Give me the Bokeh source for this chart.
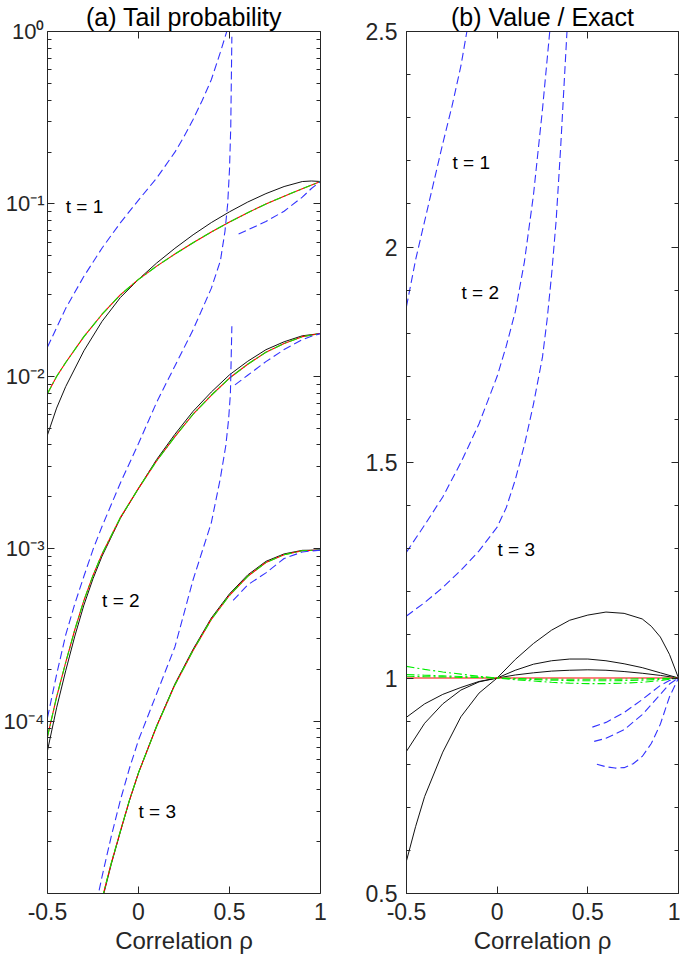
from bokeh.plotting import figure
from bokeh.models import (LinearAxis, LogAxis, FixedTicker, CustomJSTickFormatter,
                          Range1d, SingleIntervalTicker)
from bokeh.layouts import row
from bokeh.embed import file_html
from bokeh.resources import INLINE
from bokeh.core.properties import value

# ---------------- data: panel (a) tail probability ----------------
rho_t1 = [-0.5, -0.45, -0.4, -0.3, -0.2, -0.1, 0.0, 0.1, 0.2, 0.3, 0.4, 0.5, 0.6, 0.7, 0.8, 0.9, 1.0]
exact_t1 = [0.00794, 0.00998, 0.01202, 0.01698, 0.02291, 0.02965, 0.03648, 0.04355, 0.05117,
            0.05957, 0.06871, 0.07852, 0.08892, 0.09977, 0.1109, 0.1225, 0.1349]

rho_black_t1 = [-0.5, -0.45, -0.4, -0.3, -0.2, -0.1, 0.0, 0.1, 0.2, 0.3, 0.4, 0.5, 0.6, 0.7, 0.8,
                0.9, 0.95, 1.0]
black_t1 = [0.004573, 0.00654, 0.008715, 0.01406, 0.02085, 0.02861, 0.03648, 0.04542, 0.05526,
            0.06618, 0.07792, 0.08998, 0.1025, 0.1147, 0.1261, 0.1348, 0.1358, 0.1349]

rho_t2 = [-0.5, -0.45, -0.4, -0.35, -0.3, -0.25, -0.2, -0.1, 0.0, 0.1, 0.2, 0.3, 0.4, 0.5, 0.6,
          0.7, 0.8, 0.9, 1.0]
exact_t2 = [8.13e-5, 1.38e-4, 2.188e-4, 3.388e-4, 5.01e-4, 6.998e-4, 9.33e-4, 1.514e-3, 2.239e-3,
            3.236e-3, 4.467e-3, 6.026e-3, 7.762e-3, 9.772e-3, 1.175e-2, 1.380e-2, 1.549e-2,
            1.698e-2, 1.770e-2]
black_t2 = [6.75e-5, 1.194e-4, 1.958e-4, 3.110e-4, 4.71e-4, 6.697e-4, 9.07e-4, 1.500e-3, 2.239e-3,
            3.294e-3, 4.610e-3, 6.267e-3, 8.104e-3, 1.0202e-2, 1.222e-2, 1.426e-2, 1.586e-2,
            1.718e-2, 1.770e-2]

rho_t3 = [-0.2, -0.15, -0.1, -0.05, 0.0, 0.1, 0.2, 0.3, 0.4, 0.5, 0.6, 0.7, 0.8, 0.9, 1.0]
exact_t3 = [9.33e-6, 1.496e-5, 2.291e-5, 3.467e-5, 5.012e-5, 9.333e-5, 1.622e-4, 2.570e-4,
            3.890e-4, 5.370e-4, 6.918e-4, 8.318e-4, 9.226e-4, 9.727e-4, 9.817e-4]
black_t3 = [9.12e-6, 1.474e-5, 2.273e-5, 3.453e-5, 5.012e-5, 9.398e-5, 1.641e-4, 2.611e-4,
            3.960e-4, 5.472e-4, 7.043e-4, 8.443e-4, 9.327e-4, 9.785e-4, 9.817e-4]

# blue dashed approximation, two branches per t
rho_blue_lo_t1 = [-0.5, -0.4, -0.3, -0.2, -0.1, 0.0, 0.1, 0.2, 0.25, 0.3, 0.35, 0.4, 0.45, 0.485]
blue_lo_t1 = [0.01479, 0.02477, 0.03802, 0.05546, 0.07762, 0.1052, 0.1413, 0.1995, 0.2455,
              0.3090, 0.3981, 0.5248, 0.7586, 1.0]
rho_blue_hi_t1 = [0.55, 0.6, 0.7, 0.8, 0.9, 0.95, 1.0]
blue_hi_t1 = [0.06685, 0.0706, 0.07902, 0.09072, 0.1094, 0.1228, 0.1349]

rho_blue_lo_t2 = [-0.5, -0.45, -0.4, -0.35, -0.3, -0.25, -0.2, -0.1, 0.0, 0.1, 0.2, 0.3, 0.4,
                  0.45, 0.475, 0.49, 0.5, 0.507, 0.513]
blue_lo_t2 = [1.047e-4, 1.862e-4, 3.162e-4, 4.786e-4, 6.918e-4, 9.886e-4, 1.349e-3, 2.399e-3,
              4.074e-3, 7.079e-3, 1.148e-2, 1.862e-2, 3.236e-2, 4.677e-2, 6.918e-2, 0.1, 0.1585,
              0.2818, 0.9333]
rho_blue_hi_t2 = [0.53, 0.6, 0.7, 0.8, 0.9, 0.95, 1.0]
blue_hi_t2 = [8.913e-3, 1.014e-2, 1.216e-2, 1.429e-2, 1.633e-2, 1.706e-2, 1.770e-2]

rho_blue_lo_t3 = [-0.23, -0.2, -0.15, -0.1, -0.05, 0.0, 0.1, 0.2, 0.3, 0.4, 0.45, 0.48, 0.495,
                  0.505, 0.513]
blue_lo_t3 = [8.913e-6, 1.259e-5, 2.138e-5, 3.467e-5, 5.309e-5, 7.762e-5, 1.445e-4, 2.692e-4,
              6.607e-4, 1.413e-3, 2.570e-3, 3.981e-3, 5.623e-3, 7.943e-3, 1.950e-2]
rho_blue_hi_t3 = [0.52, 0.6, 0.7, 0.8, 0.9, 1.0]
blue_hi_t3 = [5.012e-4, 6.166e-4, 7.244e-4, 8.770e-4, 9.572e-4, 9.817e-4]

labels_a_text = ["t = 1", "t = 2", "t = 3"]
labels_a_rho = [-0.40, -0.20, 0.0]
labels_a_val = [0.0968, 4.98e-4, 2.99e-5]

# ---------------- data: panel (b) value / exact ----------------
rho_grid = [-0.5, -0.4, -0.3, -0.2, -0.1, 0.0, 0.1, 0.2, 0.3, 0.4, 0.5, 0.6, 0.7, 0.8, 0.9, 1.0]

rho_red_b = [-0.5, 1.0]
red_b = [1.0, 1.0]

rho_black_b1 = [-0.5, -0.45, -0.4, -0.3, -0.2, -0.1, 0.0, 0.1, 0.2, 0.3, 0.4, 0.5, 0.6, 0.7,
                0.8, 0.85, 0.9, 0.95, 1.0]
ratio_black_t1 = [0.576, 0.655, 0.725, 0.828, 0.91, 0.965, 1.0, 1.043, 1.08, 1.111, 1.134, 1.146,
                  1.153, 1.15, 1.137, 1.12, 1.095, 1.055, 1.0]
ratio_black_t2 = [0.83, 0.895, 0.94, 0.972, 0.991, 1.0, 1.018, 1.032, 1.04, 1.044, 1.044, 1.04,
                  1.033, 1.024, 1.012, 1.0]
ratio_black_t3 = [0.909, 0.94, 0.962, 0.978, 0.992, 1.0, 1.007, 1.012, 1.016, 1.018, 1.019, 1.018,
                  1.015, 1.011, 1.006, 1.0]

ratio_green_1 = [1.027, 1.020, 1.014, 1.009, 1.004, 1.0, 0.996, 0.993, 0.990, 0.988, 0.987, 0.987,
                 0.988, 0.990, 0.994, 1.0]
ratio_green_2 = [1.008, 1.0065, 1.005, 1.0035, 1.002, 1.0, 0.998, 0.9965, 0.995, 0.994, 0.9935,
                 0.9935, 0.994, 0.995, 0.997, 1.0]
ratio_green_3 = [1.004, 1.003, 1.0025, 1.0015, 1.001, 1.0, 0.999, 0.998, 0.9975, 0.997, 0.997,
                 0.997, 0.9975, 0.998, 0.999, 1.0]

rho_rb_lo_t1 = [-0.5, -0.45, -0.4, -0.35, -0.3, -0.25, -0.2, -0.165]
ratio_blue_lo_t1 = [1.862, 1.97, 2.06, 2.15, 2.24, 2.325, 2.42, 2.505]
rho_rb_lo_t2 = [-0.5, -0.4, -0.3, -0.2, -0.1, 0.0, 0.05, 0.1, 0.15, 0.2, 0.25, 0.29]
ratio_blue_lo_t2 = [1.292, 1.355, 1.42, 1.50, 1.59, 1.70, 1.77, 1.85, 1.965, 2.12, 2.32, 2.50]
rho_rb_lo_t3 = [-0.5, -0.4, -0.3, -0.2, -0.1, 0.0, 0.05, 0.1, 0.15, 0.2, 0.25, 0.275, 0.3, 0.325,
                0.35, 0.385]
ratio_blue_lo_t3 = [1.144, 1.175, 1.21, 1.25, 1.295, 1.35, 1.395, 1.46, 1.54, 1.635, 1.745, 1.83,
                    1.935, 2.06, 2.23, 2.50]

rho_rb_hi_t1 = [0.55, 0.6, 0.65, 0.7, 0.75, 0.8, 0.85, 0.9, 0.95, 1.0]
ratio_blue_hi_t1 = [0.800, 0.794, 0.791, 0.792, 0.801, 0.818, 0.848, 0.893, 0.956, 1.0]
rho_rb_hi_t2 = [0.535, 0.6, 0.7, 0.8, 0.9, 0.95, 1.0]
ratio_blue_hi_t2 = [0.853, 0.860, 0.880, 0.915, 0.962, 0.986, 1.0]
rho_rb_hi_t3 = [0.525, 0.6, 0.7, 0.8, 0.9, 0.95, 1.0]
ratio_blue_hi_t3 = [0.886, 0.897, 0.92, 0.95, 0.983, 0.994, 1.0]

labels_b_text = ["t = 1", "t = 2", "t = 3"]
labels_b_rho = [-0.246, -0.197, 0.002]
labels_b_val = [2.195, 1.895, 1.297]

x_ticks = [-0.5, 0.0, 0.5, 1.0]
log_major = [1e-4, 1e-3, 1e-2, 1e-1, 1.0]

# ---------------- styling ----------------
FONT = "Liberation Sans"
AX = "#262626"
BLUE = "#3333ff"
GREEN = "#00ee00"
RED = "#ff0000"
BLACK = "#111111"
DASH = "8 4"
DASHDOT = "8 3 2 3"

log_minor = [m * d for d in [1e-5, 1e-4, 1e-3, 1e-2, 1e-1] for m in range(2, 10)]

X_FMT = "return tick.toString();"
LOG_FMT = """
const e = Math.round(Math.log10(tick));
const m = {'-': '\u207b', '0': '\u2070', '1': '\u00b9', '2': '\u00b2', '3': '\u00b3',
           '4': '\u2074', '5': '\u2075'};
return '10' + String(e).split('').map(c => m[c]).join('');
"""
BLANK = "return '';"


def style_axis(ax, size="23px", standoff=8):
    ax.axis_line_color = AX
    ax.axis_line_width = 1
    ax.major_tick_line_color = AX
    ax.minor_tick_line_color = AX
    ax.major_tick_in = 7
    ax.major_tick_out = 0
    ax.minor_tick_in = 4
    ax.minor_tick_out = 0
    ax.major_label_text_font = FONT
    ax.major_label_text_font_size = size
    ax.major_label_text_color = AX
    ax.major_label_standoff = standoff
    ax.axis_label_text_font = FONT
    ax.axis_label_text_font_size = "24px"
    ax.axis_label_text_font_style = "normal"
    ax.axis_label_text_color = AX
    ax.axis_label_standoff = 4


def base_fig(title, frame_w, border_left, border_right, y_range, y_type):
    p = figure(frame_width=frame_w, frame_height=862, x_range=Range1d(-0.5, 1.0),
               y_range=y_range, y_axis_type=y_type, output_backend="svg",
               toolbar_location=None, min_border_left=border_left,
               min_border_right=border_right, min_border_top=19, min_border_bottom=64,
               title=title)
    p.title.text_font = FONT
    p.title.text_font_size = "25px"
    p.title.text_font_style = "normal"
    p.title.text_color = "#000000"
    p.title.align = "center"
    p.title.standoff = 1
    p.title.offset = 0
    p.outline_line_color = None
    p.xgrid.visible = False
    p.ygrid.visible = False
    p.background_fill_color = "white"
    p.border_fill_color = "white"
    p.xaxis.ticker = FixedTicker(ticks=x_ticks, minor_ticks=[])
    p.xaxis.formatter = CustomJSTickFormatter(code=X_FMT)
    p.xaxis.axis_label = "Correlation ρ"
    style_axis(p.xaxis[0], standoff=9)
    top = LinearAxis(ticker=FixedTicker(ticks=x_ticks, minor_ticks=[]),
                     formatter=CustomJSTickFormatter(code=BLANK))
    style_axis(top, standoff=0)
    p.add_layout(top, "above")
    return p


# ---------------- panel (a) ----------------
p1 = base_fig("(a) Tail probability", 273, 43, 35, Range1d(1e-5, 1.0), "log")
p1.yaxis.ticker = FixedTicker(ticks=log_major, minor_ticks=log_minor)
p1.yaxis.formatter = CustomJSTickFormatter(code=LOG_FMT)
style_axis(p1.yaxis[0], size="22px", standoff=3)
right_a = LogAxis(ticker=FixedTicker(ticks=log_major, minor_ticks=log_minor),
                  formatter=CustomJSTickFormatter(code=BLANK))
style_axis(right_a, standoff=0)
p1.add_layout(right_a, "right")

for xs, ys in [(rho_black_t1, black_t1), (rho_t2, black_t2), (rho_t3, black_t3)]:
    p1.line(xs, ys, line_color=BLACK, line_width=1)
for xs, ys in [(rho_t1, exact_t1), (rho_t2, exact_t2), (rho_t3, exact_t3)]:
    p1.line(xs, ys, line_color=RED, line_width=1.1)
for xs, ys in [(rho_t1, exact_t1), (rho_t2, exact_t2), (rho_t3, exact_t3)]:
    p1.line(xs, ys, line_color=GREEN, line_width=1.1, line_dash=DASHDOT)
for xs, ys in [(rho_blue_lo_t1, blue_lo_t1), (rho_blue_hi_t1, blue_hi_t1),
               (rho_blue_lo_t2, blue_lo_t2), (rho_blue_hi_t2, blue_hi_t2),
               (rho_blue_lo_t3, blue_lo_t3), (rho_blue_hi_t3, blue_hi_t3)]:
    p1.line(xs, ys, line_color=BLUE, line_width=1.1, line_dash=DASH)
p1.text(x=labels_a_rho, y=labels_a_val, text=labels_a_text, text_font=value(FONT),
        text_font_size="19px", text_baseline="middle", text_align="left", text_color="#000000")

# ---------------- panel (b) ----------------
p2 = base_fig("(b) Value / Exact", 272, 51, 2, Range1d(0.5, 2.5), "linear")
p2.yaxis.ticker = SingleIntervalTicker(interval=0.5, num_minor_ticks=5)
p2.yaxis.formatter = CustomJSTickFormatter(code=X_FMT)
style_axis(p2.yaxis[0], standoff=9)
right_b = LinearAxis(ticker=SingleIntervalTicker(interval=0.5, num_minor_ticks=5),
                     formatter=CustomJSTickFormatter(code=BLANK))
style_axis(right_b, standoff=0)
p2.add_layout(right_b, "right")

p2.line(rho_black_b1, ratio_black_t1, line_color=BLACK, line_width=1)
p2.line(rho_grid, ratio_black_t2, line_color=BLACK, line_width=1)
p2.line(rho_grid, ratio_black_t3, line_color=BLACK, line_width=1)
p2.line(rho_red_b, red_b, line_color=RED, line_width=1.1)
for ys in [ratio_green_1, ratio_green_2, ratio_green_3]:
    p2.line(rho_grid, ys, line_color=GREEN, line_width=1.1, line_dash=DASHDOT)
for xs, ys in [(rho_rb_lo_t1, ratio_blue_lo_t1), (rho_rb_lo_t2, ratio_blue_lo_t2),
               (rho_rb_lo_t3, ratio_blue_lo_t3), (rho_rb_hi_t1, ratio_blue_hi_t1),
               (rho_rb_hi_t2, ratio_blue_hi_t2), (rho_rb_hi_t3, ratio_blue_hi_t3)]:
    p2.line(xs, ys, line_color=BLUE, line_width=1.1, line_dash=DASH)
p2.text(x=labels_b_rho, y=labels_b_val, text=labels_b_text, text_font=value(FONT),
        text_font_size="19px", text_baseline="middle", text_align="left", text_color="#000000")

layout = row(p1, p2)
open("out.html", "w").write(file_html(layout, INLINE))
